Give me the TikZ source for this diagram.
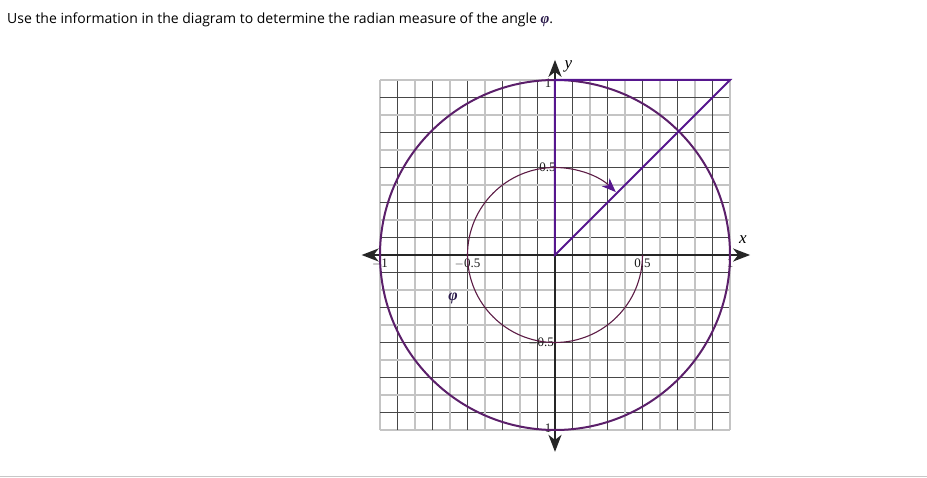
\documentclass[tikz,border=0pt]{standalone}
\usepackage{amsmath}
\usepackage{fontspec}
\setmainfont{Open Sans}
\newfontfamily\tickfont{Liberation Serif}
\usetikzlibrary {arrows.meta, positioning}
\definecolor{gridgray}{HTML}{C4C4C4}
\definecolor{griddark}{HTML}{474747}
\definecolor{circpurple}{HTML}{5B1F6A}
\definecolor{linepurple}{HTML}{56168E}
\definecolor{arcpurple}{HTML}{5C1C45}
\definecolor{phicolor}{HTML}{2A1A4A}
\newcommand{\phisym}{{\tickfont\bfseries\itshape φ}}
\tikzset{
    >={Stealth[length=17pt, width=13pt, inset=5pt]},
    tick/.style={font=\tickfont\fontsize{13}{13}\selectfont, text=black!90, inner sep=0pt},
    axis/.style={line width=2pt, black!85, <->},
    axlabel/.style={font=\tickfont\itshape\fontsize{17}{17}\selectfont, inner sep=0pt}
}

\begin{document}
\begin{tikzpicture}[x=175pt, y=175pt]
    \useasboundingbox (-3.1714, -1.2686) rectangle (2.1257, 1.4571);
    % question
    \node (Q) [anchor=base west, inner sep=0pt, font=\fontsize{14}{16}\selectfont]
        at (-3.1314, 1.32) {Use the information in the diagram to determine the radian measure of the angle {\color{phicolor}\fontsize{15}{16}\selectfont\phisym}.};
    % grid
    \foreach \i in {-10, ..., 10} {
        \ifodd\i
            \draw [griddark, line width=0.6pt] (\i/10, -1) -- (\i/10, 1);
            \draw [griddark, line width=0.6pt] (-1, \i/10) -- (1, \i/10);
        \else
            \draw [gridgray, line width=1.6pt] (\i/10, -1) -- (\i/10, 1);
            \draw [gridgray, line width=1.6pt] (-1, \i/10) -- (1, \i/10);
        \fi
    }
    % tick labels
    \foreach \x/\t in {-1/$-$1, -0.5/$-$0.5, 0.5/0.5, 1/1} {
        \node (x\x) [tick, anchor=north] at (\x, -0.02) {\t};
    }
    \node (y05) [tick, anchor=east] at (0.005, 0.5) {0.5};
    \node (ym05) [tick, anchor=east] at (-0.005, -0.5) {$-$0.5};
    \node (y1) [tick] at (-0.04, 0.98) {1};
    \node (ym1) [tick] at (-0.04, -0.99) {1};
    % axes
    \draw [axis] (-1.105, 0) -- (1.115, 0);
    \draw [axis] (0, -1.125) -- (0, 1.115);
    \node (X) [axlabel] at (1.074, 0.086) {x};
    \node (Y) [axlabel] at (0.077, 1.08) {y};
    % unit circle
    \draw [circpurple, line width=2pt] (0, 0) circle [radius=1];
    % triangle
    \coordinate (O) at (0, 0);
    \coordinate (T) at (0, 1);
    \coordinate (P) at (1, 1);
    \draw [linepurple, line width=2pt, line join=miter] (O) -- (T) -- (P) -- cycle;
    % angle arc
    \draw [arcpurple, line width=1.1pt, -{Stealth[length=14pt, width=11pt, inset=4pt, linepurple]}]
        (0.5, 0) arc [start angle=0, end angle=-314, radius=0.5];
    \node (phi) [font=\fontsize{16}{16}\selectfont, text=phicolor] at (-0.583, -0.251) {\phisym};
    % bottom rule
    \draw [black!22, line width=1.2pt] (-3.1714, -1.2657) -- (2.1257, -1.2657);
\end{tikzpicture}
\end{document}
